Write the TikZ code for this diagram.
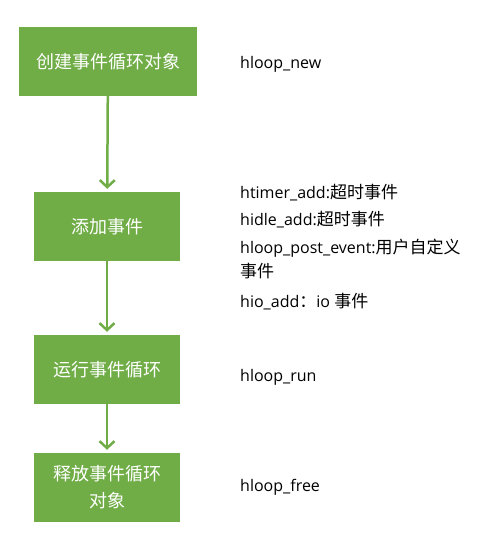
\documentclass[tikz,border=0pt]{standalone}
\usepackage{fontspec}
\setmainfont{Open Sans}
\newfontfamily\cjk{Noto Sans CJK SC}
\newcommand\zh[1]{{\cjk\fontsize{17}{24}\selectfont #1}}
\usetikzlibrary{arrows.meta}
\definecolor{stepgreen}{HTML}{70AD47}
\tikzset{
  stepbox/.style={fill=stepgreen, text=white, minimum width=146pt, minimum height=69pt,
    inner sep=0pt, align=center, font=\cjk\fontsize{18}{27}\selectfont},
  apilbl/.style={anchor=base west, inner sep=0pt, align=left, font=\fontsize{16}{24}\selectfont},
  flow/.style={draw=stepgreen, line width=2.5pt, shorten >=3pt,
    -{Straight Barb[length=7pt,width=15pt,line width=2.5pt]}}
}
\begin{document}
\begin{tikzpicture}[x=1pt,y=-1pt]
  \useasboundingbox (0,0) rectangle (482,551);
  % steps
  \node[stepbox, minimum width=178pt] (create) at (108,61.5) {创建事件循环对象};
  \node[stepbox] (add) at (107,226.5) {添加事件};
  \node[stepbox] (run) at (107,369.5) {运行事件循环};
  \node[stepbox] (free) at (107,487.5) {释放事件循环\\对象};
  \draw[flow] (create) -- (add);
  \draw[flow] (add) -- (run);
  \draw[flow] (run) -- (free);
  % api names
  \node[apilbl] (newlbl) at (240,69) {hloop\_new};
  \node[apilbl] (timerlbl) at (240,198) {htimer\_add:\zh{超时事件}};
  \node[apilbl] (idlelbl) at (240,225) {hidle\_add:\zh{超时事件}};
  \node[apilbl] (postlbl) at (240,277) {hloop\_post\_event:\zh{用户自定义}\\\zh{事件}};
  \node[apilbl] (iolbl) at (240,307) {hio\_add\zh{：}io \zh{事件}};
  \node[apilbl] (runlbl) at (240,381) {hloop\_run};
  \node[apilbl] (freelbl) at (240,491) {hloop\_free};
\end{tikzpicture}
\end{document}
